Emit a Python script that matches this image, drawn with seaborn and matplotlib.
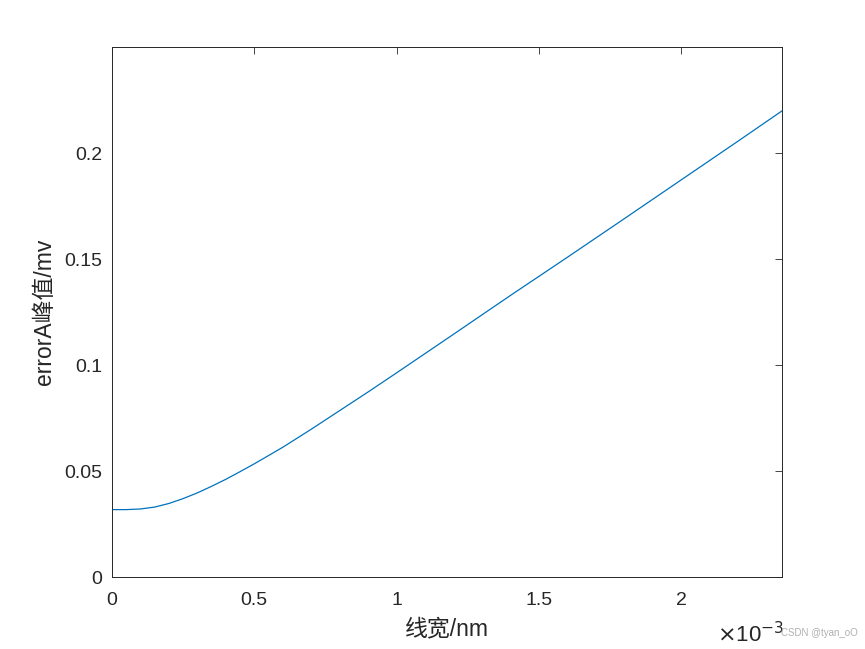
import numpy as np
import pandas as pd
import matplotlib
matplotlib.use("Agg")
import matplotlib.pyplot as plt
import seaborn as sns
from matplotlib.ticker import FuncFormatter

# line width in units of 1e-3 nm
line_width = [0, 0.05, 0.1, 0.15, 0.2, 0.25, 0.3, 0.35, 0.4, 0.45, 0.5,
              0.6, 0.7, 0.8, 0.9, 1.0, 1.2, 1.4, 1.6, 1.8, 2.0, 2.2, 2.3548]
# errorA peak value (mv)
error_peak = [0.0318, 0.0318, 0.0321, 0.0330, 0.0347, 0.0370, 0.0397, 0.0428,
              0.0461, 0.0497, 0.0534, 0.0612, 0.0697, 0.0785, 0.0873, 0.0963,
              0.1145, 0.1328, 0.1508, 0.1690, 0.1873, 0.2056, 0.2199]

x_ticks = [0, 0.5, 1, 1.5, 2]
y_ticks = [0, 0.05, 0.1, 0.15, 0.2]

df = pd.DataFrame({"linewidth": line_width, "peak": error_peak})

sns.set_style("white")
plt.rcParams["font.family"] = ["Liberation Sans", "Noto Sans CJK SC", "DejaVu Sans"]
plt.rcParams["axes.unicode_minus"] = False

dark = "#262626"
fig = plt.figure(figsize=(8.65, 6.49), dpi=100)
ax = fig.add_axes([0.1295, 0.1109, 0.7746, 0.8166])

sns.lineplot(data=df, x="linewidth", y="peak", ax=ax, color="#0072BD",
             linewidth=0.9, estimator=None, sort=False)

ax.set_xlim(0, 2.3548)
ax.set_ylim(0, 0.25)
ax.set_xticks(x_ticks)
ax.set_yticks(y_ticks)
fmt = FuncFormatter(lambda v, p: "%g" % v)
ax.xaxis.set_major_formatter(fmt)
ax.yaxis.set_major_formatter(fmt)

ax.tick_params(direction="in", length=5, width=0.6, colors=dark,
               labelsize=14, top=True, right=True, pad=7)
ax.tick_params(axis="x", pad=11)
for s in ax.spines.values():
    s.set_color(dark)
    s.set_linewidth(0.7)

ax.set_xlabel("线宽/nm", fontsize=16.5, color=dark, labelpad=6)
ax.set_ylabel("errorA峰值/mv", fontsize=16.5, color=dark, labelpad=6)

ax.text(1.003, -0.108, r"$\times$10$^{-3}$", transform=ax.transAxes,
        ha="right", va="center", fontsize=16, color=dark)
fig.text(0.992, 0.025, "CSDN @tyan_oO", ha="right", va="center",
         fontsize=7, color="#b0b0b0")

fig.savefig("out.png", dpi=100)
